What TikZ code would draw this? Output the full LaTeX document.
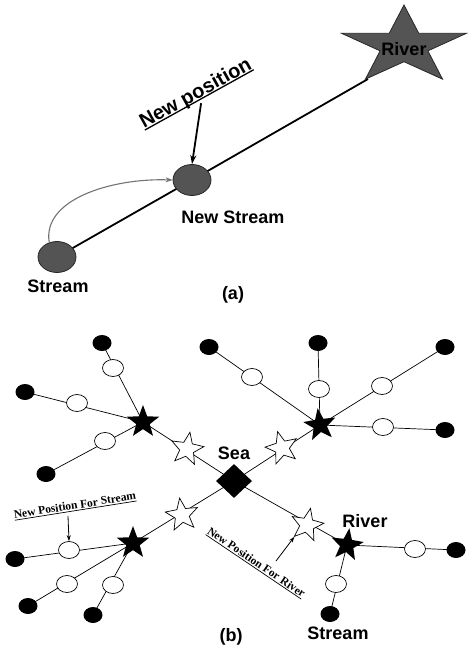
\documentclass[tikz,border=0pt]{standalone}
\usepackage{fontspec}
\setmainfont{Liberation Serif}
\newfontfamily\lsans{Liberation Sans}
\usetikzlibrary{shapes.geometric,arrows.meta}
\pgfdeclarelayer{bg}
\pgfsetlayers{bg,main}
\newcommand{\ulx}[3]{\setbox0\hbox{#3}\rlap{\rule[-#1]{\wd0}{#2}}\box0}
\begin{document}
\begin{tikzpicture}[x=1pt,y=-1pt,
  lbl/.style={font=\lsans\bfseries\fontsize{18}{20}\selectfont, inner sep=0pt},
  notelbl/.style={font=\rmfamily\bfseries\fontsize{11.5}{12}\selectfont, inner sep=1pt},
  gnode/.style={ellipse, draw=black!85, fill=black!67, line width=0.8pt, minimum width=38pt, minimum height=31pt, inner sep=0pt},
  thk/.style={line width=1.8pt},
  thn/.style={line width=0.7pt},
  garrow/.style={draw=black!55, line width=1.1pt, -{Stealth[length=7pt,width=5pt]}},
  barrow/.style={line width=1.8pt, -{Stealth[length=9pt,width=6pt]}},
  sarrow/.style={line width=0.8pt, -{Stealth[length=6pt,width=4pt]}},
  bcirc/.style={ellipse, fill=black, minimum width=19pt, minimum height=16pt, inner sep=0pt},
  wcirc/.style={ellipse, draw=black, fill=white, line width=0.7pt, minimum width=21pt, minimum height=17pt, inner sep=0pt},
  bstar/.style={star, star points=5, star point ratio=2.4, fill=black, minimum size=34pt, inner sep=0pt},
  wstar/.style={star, star points=5, star point ratio=2.3, draw=black, fill=white, line width=0.7pt, minimum size=34pt, inner sep=0pt},
  seabox/.style={diamond, fill=black, minimum width=36pt, minimum height=34pt, inner sep=0pt}
]
\useasboundingbox (0,0) rectangle (474,651);

% ---------------- (a) ----------------
\draw[fill=black!67, draw=black!85, line width=0.8pt, shift={(404,46)}, xscale=1.6]
  (-90:41) -- (-54:15.7) -- (-18:41) -- (18:15.7) -- (54:41) -- (90:15.7)
  -- (126:41) -- (162:15.7) -- (198:41) -- (234:15.7) -- cycle;
\node[lbl] (rivA) at (404,49) {River};
\coordinate (rvend) at (368,79);
\node[gnode] (st) at (57,257) {};
\node[gnode] (ns) at (192,180) {};
\begin{pgfonlayer}{bg}
\draw[thk] (st.center) -- (ns.center) -- (rvend);
\end{pgfonlayer}
\draw[garrow] (st.118) .. controls (42,200) and (110,178) .. (ns.west);
\node[lbl, rotate=29, inner sep=1pt, font=\lsans\bfseries\fontsize{20}{22}\selectfont] (np) at (196,94) {\ulx{2.2pt}{1.3pt}{New position}};
\draw[barrow] (np.south) -- (ns.north);
\node[lbl] (nsl) at (233,217) {New Stream};
\node[lbl] (stl) at (58,286) {Stream};
\node[lbl] (capa) at (233,295) {(a)};

% ---------------- (b) ----------------
\node[seabox] (sea) at (234,481) {};
\node[lbl] (seal) at (234,453) {Sea};

\node[bstar] (bNW) at (143,422) {};
\node[wstar, rotate=-10] (wNW) at (187,449) {};
\node[bstar, rotate=8] (bNE) at (320,425) {};
\node[wstar, rotate=15] (wNE) at (282,448) {};
\node[bstar] (bSW) at (133,543) {};
\node[wstar, rotate=8] (wSW) at (182,515) {};
\node[bstar, rotate=-8] (bSE) at (347,545) {};
\node[wstar, rotate=-12] (wSE) at (307,525) {};

% NW branches
\node[wcirc] (cNW1) at (113,368) {};
\node[bcirc] (dNW1) at (102,343) {};
\node[wcirc] (cNW2) at (77,403) {};
\node[bcirc] (dNW2) at (25,392) {};
\node[wcirc] (cNW3) at (105,441) {};
\node[bcirc] (dNW3) at (46,474) {};
% NE branches
\node[wcirc] (cNE1) at (252,377) {};
\node[bcirc] (dNE1) at (209,347) {};
\node[wcirc] (cNE2) at (319,389) {};
\node[bcirc] (dNE2) at (318,343) {};
\node[wcirc] (cNE3) at (382,386) {};
\node[bcirc] (dNE3) at (445,347) {};
\node[wcirc] (cNE4) at (383,427) {};
\node[bcirc] (dNE4) at (445,430) {};
% SW branches
\node[wcirc] (cSW1) at (69,550) {};
\node[bcirc] (dSW1) at (15,559) {};
\node[wcirc] (cSW2) at (67,584) {};
\node[bcirc] (dSW2) at (28,606) {};
\node[wcirc] (cSW3) at (113,585) {};
\node[bcirc] (dSW3) at (93,615) {};
% SE branches
\node[wcirc] (cSE1) at (415,549) {};
\node[bcirc] (dSE1) at (456,550) {};
\node[wcirc] (cSE2) at (336,584) {};
\node[bcirc] (dSE2) at (330,614) {};

\begin{pgfonlayer}{bg}
\draw[thn] (sea.center) -- (bNW.center);
\draw[thn] (sea.center) -- (bNE.center);
\draw[thn] (sea.center) -- (bSW.center);
\draw[thn] (sea.center) -- (bSE.center);
\foreach \s/\n in {NW/1,NW/2,NW/3,NE/1,NE/2,NE/3,NE/4,SW/1,SW/2,SW/3,SE/1,SE/2}{
  \draw[thn] (b\s.center) -- (d\s\n.center);
}
\end{pgfonlayer}

\node[lbl] (rivB) at (365,521) {River};
\node[lbl] (strB) at (338,633) {Stream};
\node[lbl] (capb) at (231,637) {(b)};

\node[notelbl, rotate=9] (nps) at (75,506) {\ulx{2pt}{0.7pt}{New Position For Stream}};
\coordinate (npsA) at (68,516);
\draw[sarrow] (npsA) -- (cSW1.north);

\node[notelbl, rotate=-34] (npr) at (256,563) {\ulx{2pt}{0.7pt}{New Position For River}};
\coordinate (nprA) at (276,561);
\draw[sarrow] (nprA) -- (wSE.235);
\end{tikzpicture}
\end{document}
